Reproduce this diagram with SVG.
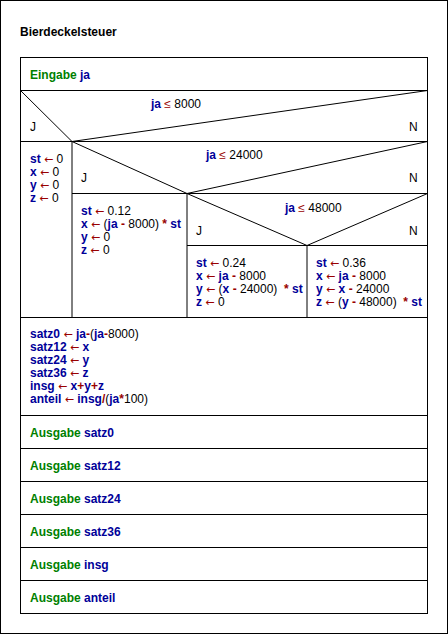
<svg xmlns="http://www.w3.org/2000/svg" width="448" height="634" viewBox="0 0 448 634">
<style>
text{font-family:"Liberation Sans",Arial,sans-serif;font-size:12px;fill:#000}
.b{font-weight:bold}
.g{fill:#007f00;font-weight:bold}
.v{fill:#000099;font-weight:bold}
.o{fill:#990000}
.ob{fill:#990000;font-weight:bold}
.a{fill:#990000;font-family:"DejaVu Sans",sans-serif;font-size:11px}
.box{fill:#fff;stroke:#000;stroke-width:1}
.ln{stroke:#000;stroke-width:1;fill:none}
</style>
<rect x="0.5" y="0.5" width="447" height="633" fill="#fff" stroke="#000"/>
<text class="b" x="20" y="36">Bierdeckelsteuer</text>
<g id="eingabe">
<rect class="box" x="20.5" y="57.5" width="407" height="33"/>
<text x="30" y="79"><tspan class="g">Eingabe </tspan><tspan class="v">ja</tspan></text>
</g>
<g id="if1">
<rect class="box" x="20.5" y="90.5" width="407" height="227"/>
<line class="ln" x1="20.5" y1="90.5" x2="72" y2="141.5"/>
<line class="ln" x1="72" y1="141.5" x2="427.5" y2="90.5"/>
<line class="ln" x1="20.5" y1="141.5" x2="427.5" y2="141.5"/>
<line class="ln" x1="72" y1="141.5" x2="72" y2="317.5"/>
<text x="151" y="108"><tspan class="v">ja</tspan> <tspan class="o">≤</tspan> 8000</text>
<text x="30" y="131">J</text>
<text x="409" y="131">N</text>
</g>
<g id="then1">
<text x="30" y="163"><tspan class="v">st</tspan> <tspan class="a">←</tspan> 0</text>
<text x="30" y="176"><tspan class="v">x</tspan> <tspan class="a">←</tspan> 0</text>
<text x="30" y="189"><tspan class="v">y</tspan> <tspan class="a">←</tspan> 0</text>
<text x="30" y="202"><tspan class="v">z</tspan> <tspan class="a">←</tspan> 0</text>
</g>
<g id="if2">
<line class="ln" x1="72" y1="141.5" x2="187" y2="193.5"/>
<line class="ln" x1="187" y1="193.5" x2="427.5" y2="141.5"/>
<line class="ln" x1="72" y1="193.5" x2="427.5" y2="193.5"/>
<line class="ln" x1="187" y1="193.5" x2="187" y2="317.5"/>
<text x="206" y="159"><tspan class="v">ja</tspan> <tspan class="o">≤</tspan> 24000</text>
<text x="81" y="182">J</text>
<text x="409" y="182">N</text>
</g>
<g id="then2">
<text x="81" y="215"><tspan class="v">st</tspan> <tspan class="a">←</tspan> 0.12</text>
<text x="81" y="228"><tspan class="v">x</tspan> <tspan class="a">←</tspan> (<tspan class="v">ja</tspan> <tspan class="ob">-</tspan> 8000) <tspan class="ob">*</tspan> <tspan class="v">st</tspan></text>
<text x="81" y="241"><tspan class="v">y</tspan> <tspan class="a">←</tspan> 0</text>
<text x="81" y="254"><tspan class="v">z</tspan> <tspan class="a">←</tspan> 0</text>
</g>
<g id="if3">
<line class="ln" x1="187" y1="193.5" x2="307" y2="245.5"/>
<line class="ln" x1="307" y1="245.5" x2="427.5" y2="193.5"/>
<line class="ln" x1="187" y1="245.5" x2="427.5" y2="245.5"/>
<line class="ln" x1="307" y1="245.5" x2="307" y2="317.5"/>
<text x="285" y="212"><tspan class="v">ja</tspan> <tspan class="o">≤</tspan> 48000</text>
<text x="196" y="235">J</text>
<text x="409" y="235">N</text>
</g>
<g id="then3">
<text x="196" y="267"><tspan class="v">st</tspan> <tspan class="a">←</tspan> 0.24</text>
<text x="196" y="280"><tspan class="v">x</tspan> <tspan class="a">←</tspan> <tspan class="v">ja</tspan> <tspan class="ob">-</tspan> 8000</text>
<text x="196" y="293" xml:space="preserve"><tspan class="v">y</tspan> <tspan class="a">←</tspan> (<tspan class="v">x</tspan> <tspan class="ob">-</tspan> 24000)  <tspan class="ob">*</tspan> <tspan class="v">st</tspan></text>
<text x="196" y="306"><tspan class="v">z</tspan> <tspan class="a">←</tspan> 0</text>
</g>
<g id="else3">
<text x="316" y="267"><tspan class="v">st</tspan> <tspan class="a">←</tspan> 0.36</text>
<text x="316" y="280"><tspan class="v">x</tspan> <tspan class="a">←</tspan> <tspan class="v">ja</tspan> <tspan class="ob">-</tspan> 8000</text>
<text x="316" y="293"><tspan class="v">y</tspan> <tspan class="a">←</tspan> <tspan class="v">x</tspan> <tspan class="ob">-</tspan> 24000</text>
<text x="316" y="306" xml:space="preserve"><tspan class="v">z</tspan> <tspan class="a">←</tspan> (<tspan class="v">y</tspan> <tspan class="ob">-</tspan> 48000)  <tspan class="ob">*</tspan> <tspan class="v">st</tspan></text>
</g>
<g id="assign">
<rect class="box" x="20.5" y="317.5" width="407" height="98"/>
<text x="30" y="338"><tspan class="v">satz0</tspan> <tspan class="a">←</tspan> <tspan class="v">ja</tspan><tspan class="ob">-</tspan>(<tspan class="v">ja</tspan><tspan class="ob">-</tspan>8000)</text>
<text x="30" y="351"><tspan class="v">satz12</tspan> <tspan class="a">←</tspan> <tspan class="v">x</tspan></text>
<text x="30" y="364"><tspan class="v">satz24</tspan> <tspan class="a">←</tspan> <tspan class="v">y</tspan></text>
<text x="30" y="377"><tspan class="v">satz36</tspan> <tspan class="a">←</tspan> <tspan class="v">z</tspan></text>
<text x="30" y="390"><tspan class="v">insg</tspan> <tspan class="a">←</tspan> <tspan class="v">x</tspan><tspan class="ob">+</tspan><tspan class="v">y</tspan><tspan class="ob">+</tspan><tspan class="v">z</tspan></text>
<text x="30" y="403"><tspan class="v">anteil</tspan> <tspan class="a">←</tspan> <tspan class="v">insg</tspan><tspan class="ob">/</tspan>(<tspan class="v">ja</tspan><tspan class="ob">*</tspan>100)</text>
</g>
<g id="out1"><rect class="box" x="20.5" y="415.5" width="407" height="33"/><text x="30" y="437"><tspan class="g">Ausgabe </tspan><tspan class="v">satz0</tspan></text></g>
<g id="out2"><rect class="box" x="20.5" y="448.5" width="407" height="33"/><text x="30" y="470"><tspan class="g">Ausgabe </tspan><tspan class="v">satz12</tspan></text></g>
<g id="out3"><rect class="box" x="20.5" y="481.5" width="407" height="33"/><text x="30" y="503"><tspan class="g">Ausgabe </tspan><tspan class="v">satz24</tspan></text></g>
<g id="out4"><rect class="box" x="20.5" y="514.5" width="407" height="33"/><text x="30" y="536"><tspan class="g">Ausgabe </tspan><tspan class="v">satz36</tspan></text></g>
<g id="out5"><rect class="box" x="20.5" y="547.5" width="407" height="33"/><text x="30" y="569"><tspan class="g">Ausgabe </tspan><tspan class="v">insg</tspan></text></g>
<g id="out6"><rect class="box" x="20.5" y="580.5" width="407" height="33"/><text x="30" y="602"><tspan class="g">Ausgabe </tspan><tspan class="v">anteil</tspan></text></g>
<g id="connectors"></g>
</svg>
